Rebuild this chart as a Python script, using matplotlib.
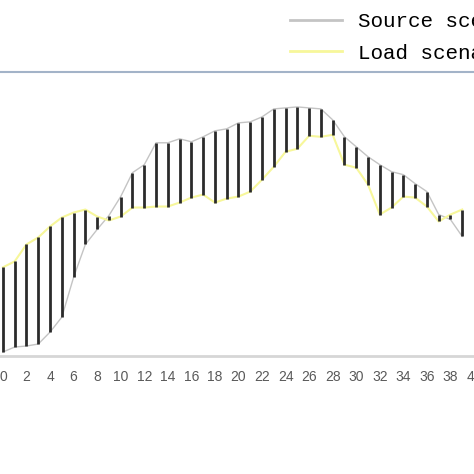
import numpy as np
import matplotlib
matplotlib.use('Agg')
import matplotlib.pyplot as plt

# values (arbitrary units, no y scale shown)
hours = list(range(40))
source = [4, 9, 10, 12, 24, 39, 79, 112, 127, 141,
          160, 184, 192, 214, 214, 218, 215, 220, 226, 228,
          234, 235, 240, 248, 249, 250, 249, 248, 237, 220,
          210, 200, 192, 185, 182, 173, 165, 142, 137, 120]
load = [89, 95, 112, 119, 130, 139, 144, 147, 140, 136,
        140, 149, 149, 150, 150, 154, 159, 162, 154, 158,
        160, 165, 177, 190, 205, 208, 221, 220, 222, 192,
        189, 172, 142, 149, 160, 159, 150, 135, 142, 147]
xticks = list(range(0, 41, 2))

fig = plt.figure(figsize=(4.74, 4.74), dpi=100)
ax = fig.add_axes([0, 0.249, 1, 0.599])

ax.vlines(hours, source, load, color='#2b2b2b', lw=2.0, zorder=3)
ax.plot(hours, source, color='#c4c4c4', lw=1.0, label='Source scenario', zorder=2)
ax.plot(hours, load, color='#f7f79a', lw=1.5, label='Load scenario', zorder=2)

ax.set_xlim(-0.25, 39.25)
ax.set_ylim(0, 285)
ax.set_yticks([])
ax.set_xticks(xticks)
ax.set_xticklabels([str(t) for t in xticks], family='Liberation Sans',
                   fontsize=10, color='#595959')
ax.tick_params(axis='x', length=0, pad=10)

for s in ['left', 'right']:
    ax.spines[s].set_visible(False)
ax.spines['bottom'].set_color('#d6d6d6')
ax.spines['bottom'].set_linewidth(2)
ax.spines['top'].set_color('#a3b3c8')
ax.spines['top'].set_linewidth(1.5)

leg = ax.legend(loc='upper left', bbox_to_anchor=(284 / 474, 1 - 6 / 474),
                bbox_transform=fig.transFigure, frameon=False,
                prop={'family': 'Liberation Mono', 'size': 15},
                handlelength=2.5, handletextpad=0.75, labelspacing=0.6,
                borderaxespad=0.1, borderpad=0.2)
for h in leg.get_lines():
    h.set_linewidth(2)

fig.savefig('out.png', dpi=100)
